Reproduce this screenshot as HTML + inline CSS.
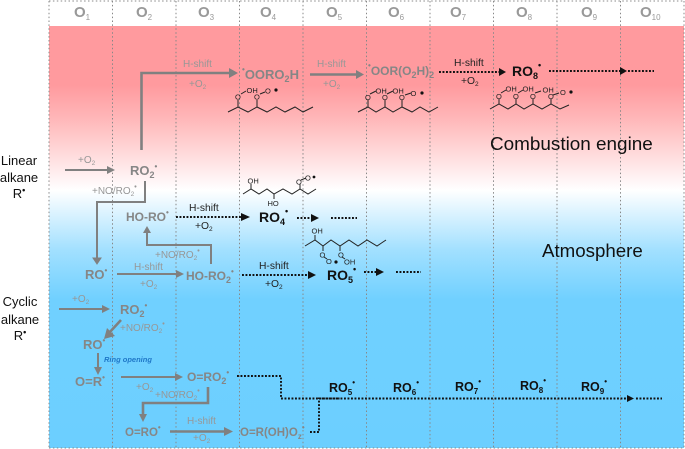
<!DOCTYPE html>
<html><head><meta charset="utf-8">
<style>
html,body{margin:0;padding:0;background:#fff;width:685px;height:449px;overflow:hidden}
svg{display:block}
text{font-family:"Liberation Sans",sans-serif}
.h{font-size:15px;font-weight:bold;fill:#999}
.g{font-size:13px;font-weight:bold;fill:#868686}
.k{font-size:14px;font-weight:bold;fill:#111}
.l{font-size:10px;fill:#979797}
.d{font-size:10.3px;fill:#222}
.m{font-size:7.5px;fill:#222}
.t{font-size:13px;fill:#111;text-anchor:middle}
.a{stroke:#808080;fill:none;stroke-width:2}
.a3{stroke:#808080;fill:none;stroke-width:2.6}
.p{stroke:#111;fill:none;stroke-width:1.9;stroke-dasharray:1.9 1.6}
.v{stroke:#888;fill:none;stroke-width:1;stroke-dasharray:1.5 2.4}
.b{stroke:#222;fill:none;stroke-width:1}
</style></head><body>
<svg width="685" height="449" viewBox="0 0 685 449" xmlns="http://www.w3.org/2000/svg">
<defs>
<linearGradient id="bg" x1="0" y1="0" x2="0" y2="1">
<stop offset="0" stop-color="#ff9a9e"/>
<stop offset="0.14" stop-color="#ff9a9e"/>
<stop offset="0.223" stop-color="#ffb8ba"/>
<stop offset="0.389" stop-color="#ffffff"/>
<stop offset="0.531" stop-color="#a2e0ff"/>
<stop offset="0.649" stop-color="#70d0ff"/>
<stop offset="1" stop-color="#6ccfff"/>
</linearGradient>
</defs>
<rect x="49" y="26" width="635" height="422" fill="url(#bg)"/>

<g class="v">
<path d="M49 1V448M112.500 1V448M176 1V448M239.500 1V448M303 1V448M366.500 1V448M430 1V448M493.500 1V448M557 1V448M620.500 1V448M684 1V448"/>
<path d="M49 1H684M49 448H684"/>
</g>

<g class="h">
<text x="74" y="17">O<tspan font-size="8" dy="3" font-weight="normal">1</tspan></text>
<text x="136" y="17">O<tspan font-size="8" dy="3" font-weight="normal">2</tspan></text>
<text x="198" y="17">O<tspan font-size="8" dy="3" font-weight="normal">3</tspan></text>
<text x="260" y="17">O<tspan font-size="8" dy="3" font-weight="normal">4</tspan></text>
<text x="326" y="17">O<tspan font-size="8" dy="3" font-weight="normal">5</tspan></text>
<text x="388" y="17">O<tspan font-size="8" dy="3" font-weight="normal">6</tspan></text>
<text x="450" y="17">O<tspan font-size="8" dy="3" font-weight="normal">7</tspan></text>
<text x="516" y="17">O<tspan font-size="8" dy="3" font-weight="normal">8</tspan></text>
<text x="581" y="17">O<tspan font-size="8" dy="3" font-weight="normal">9</tspan></text>
<text x="640" y="17">O<tspan font-size="8" dy="3" font-weight="normal">10</tspan></text>
</g>

<text x="490" y="150" style="font-size:18.900px" fill="#111">Combustion engine</text>
<text x="542" y="257" style="font-size:18.700px" fill="#111">Atmosphere</text>

<text class="t" x="19" y="165">Linear</text>
<text class="t" x="19" y="182">alkane</text>
<text class="t" x="19" y="198">R<tspan font-size="9" dy="-5" font-weight="bold">•</tspan></text>
<text class="t" x="20" y="306">Cyclic</text>
<text class="t" x="20" y="324">alkane</text>
<text class="t" x="20" y="340">R<tspan font-size="9" dy="-5" font-weight="bold">•</tspan></text>

<!-- gray arrows -->
<path class="a3" d="M141.500 150V73H230"/><path d="M229 68L238 73L229 78Z" fill="#808080"/>
<path class="a3" d="M310 74.500H358"/><path d="M356 70L364 74.500L356 79Z" fill="#808080"/>
<path class="a" d="M65 170H108"/><path d="M107 166L115 170L107 174Z" fill="#808080"/>
<path class="a" d="M145 181V202H97V260"/><path d="M93 258L97 264L101 258Z" fill="#808080" stroke="#808080"/>
<path class="a" d="M211 264V245H147V232"/><path d="M143 233L147 226L151 233Z" fill="#808080"/>
<path class="a" d="M117 274H177"/><path d="M176 270L184 274L176 278Z" fill="#808080"/>
<path class="a" d="M59 309H104"/><path d="M102 305L110 309L102 313Z" fill="#808080"/>
<path class="a3" d="M121 320L109 333"/><path d="M104 339L107 328L115 336Z" fill="#808080"/>
<path class="a" d="M98 353V368"/><path d="M94 367L98 375L102 367Z" fill="#808080"/>
<path class="a" d="M121 377H177"/><path d="M175 373L183 377L175 381Z" fill="#808080"/>
<path class="a3" d="M208 387V403H143V416"/><path d="M139 414L143 422L147 414Z" fill="#808080"/>
<path class="a3" d="M170 431.500H226"/><path d="M224 427L233 431.500L224 436Z" fill="#808080"/>

<!-- dotted arrows -->
<path class="p" d="M439 72H500"/><path d="M499 68L506 72L499 76Z" fill="#111"/>
<path class="p" d="M549 71H622"/><path d="M620 67L627 71L620 75Z" fill="#111"/>
<path class="p" d="M628 71H654"/>
<path class="p" d="M176 217H242"/><path d="M241 213L250 217L241 221Z" fill="#111"/>
<path class="p" d="M297 218H312"/><path d="M311 214L319 218L311 222Z" fill="#111"/>
<path class="p" d="M331 218H357"/>
<path class="p" d="M242 275H310"/><path d="M308 271L316 275L308 279Z" fill="#111"/>
<path class="p" d="M364 272H378"/><path d="M376 268L384 272L376 276Z" fill="#111"/>
<path class="p" d="M396 272H421"/>
<path class="p" d="M237 376H281V398.500H632"/><path d="M627 395L634 398.500L627 402Z" fill="#111"/>
<path class="p" d="M636 398.500H662"/>
<path class="p" d="M310 432H319V398.500H340"/>

<!-- gray labels -->
<text class="l" x="183" y="67">H-shift</text><text class="l" x="189" y="87">+O<tspan font-size="6.5" dy="2">2</tspan></text>
<text class="l" x="317" y="67">H-shift</text><text class="l" x="323" y="87">+O<tspan font-size="6.5" dy="2">2</tspan></text>
<text class="l" x="78" y="163">+O<tspan font-size="6.5" dy="2">2</tspan></text>
<text class="l" x="92" y="194">+NO/RO<tspan font-size="6.5" dy="2">2</tspan><tspan font-size="7" dy="-7" font-weight="bold">•</tspan></text>
<text class="l" x="155" y="258">+NO/RO<tspan font-size="6.5" dy="2">2</tspan><tspan font-size="7" dy="-7" font-weight="bold">•</tspan></text>
<text class="l" x="134" y="270">H-shift</text><text class="l" x="140" y="287">+O<tspan font-size="6.5" dy="2">2</tspan></text>
<text class="l" x="72" y="302">+O<tspan font-size="6.5" dy="2">2</tspan></text>
<text class="l" x="120" y="331">+NO/RO<tspan font-size="6.5" dy="2">2</tspan><tspan font-size="7" dy="-7" font-weight="bold">•</tspan></text>
<text x="104" y="362" style="font-size:7.500px;font-weight:bold;font-style:italic" fill="#1f78c8">Ring opening</text>
<text class="l" x="136" y="390">+O<tspan font-size="6.5" dy="2">2</tspan></text>
<text class="l" x="155" y="398">+NO/RO<tspan font-size="6.5" dy="2">2</tspan><tspan font-size="7" dy="-7" font-weight="bold">•</tspan></text>
<text class="l" x="187" y="424">H-shift</text><text class="l" x="193" y="441">+O<tspan font-size="6.5" dy="2">2</tspan></text>

<!-- dark labels -->
<text class="d" x="454" y="66">H-shift</text><text class="d" x="461" y="84">+O<tspan font-size="6.5" dy="2">2</tspan></text>
<text class="d" x="189" y="211">H-shift</text><text class="d" x="195" y="229">+O<tspan font-size="6.5" dy="2">2</tspan></text>
<text class="d" x="259" y="269">H-shift</text><text class="d" x="265" y="287">+O<tspan font-size="6.5" dy="2">2</tspan></text>

<!-- gray species -->
<text class="g" x="242" y="79"><tspan font-size="8" dy="-7">•</tspan><tspan dy="7">OORO</tspan><tspan font-size="9" dy="3">2</tspan><tspan dy="-3">H</tspan></text>
<text class="g" style="font-size:12px" x="368" y="75"><tspan font-size="8" dy="-7">•</tspan><tspan dy="7">OOR(O</tspan><tspan font-size="9" dy="3">2</tspan><tspan dy="-3">H)</tspan><tspan font-size="9" dy="3">2</tspan></text>
<text class="g" x="130" y="175">RO<tspan font-size="9" dy="3">2</tspan><tspan font-size="8" dy="-9">•</tspan></text>
<text class="g" style="font-size:12px" x="126" y="221">HO-RO<tspan font-size="8" dy="-6">•</tspan></text>
<text class="g" x="85" y="279">RO<tspan font-size="8" dy="-6">•</tspan></text>
<text class="g" style="font-size:12px" x="186" y="280">HO-RO<tspan font-size="9" dy="3">2</tspan><tspan font-size="8" dy="-9">•</tspan></text>
<text class="g" x="120" y="314">RO<tspan font-size="9" dy="3">2</tspan><tspan font-size="8" dy="-9">•</tspan></text>
<text class="g" x="83" y="349">RO<tspan font-size="8" dy="-6">•</tspan></text>
<text class="g" x="75" y="386">O=R<tspan font-size="8" dy="-6">•</tspan></text>
<text class="g" style="font-size:12px" x="187" y="381">O=RO<tspan font-size="9" dy="3">2</tspan><tspan font-size="8" dy="-9">•</tspan></text>
<text class="g" x="125" y="436" style="font-size:11.500px">O=RO<tspan font-size="8" dy="-6">•</tspan></text>
<text class="g" x="240" y="436" style="font-size:11.500px">O=R(OH)O<tspan font-size="8" dy="3">z</tspan><tspan font-size="8" dy="-9">•</tspan></text>

<!-- black species -->
<text class="k" x="512" y="76">RO<tspan font-size="9" dy="3">8</tspan><tspan font-size="9" dy="-11">•</tspan></text>
<text class="k" x="259" y="222">RO<tspan font-size="9" dy="3">4</tspan><tspan font-size="9" dy="-11">•</tspan></text>
<text class="k" x="327" y="280">RO<tspan font-size="9" dy="3">5</tspan><tspan font-size="9" dy="-11">•</tspan></text>
<text class="k" style="font-size:12.500px" x="329" y="392">RO<tspan font-size="8" dy="3">5</tspan><tspan font-size="8" dy="-10">•</tspan></text>
<text class="k" style="font-size:12.500px" x="393" y="392">RO<tspan font-size="8" dy="3">6</tspan><tspan font-size="8" dy="-10">•</tspan></text>
<text class="k" style="font-size:12.500px" x="455" y="391">RO<tspan font-size="8" dy="3">7</tspan><tspan font-size="8" dy="-10">•</tspan></text>
<text class="k" style="font-size:12.500px" x="520" y="390">RO<tspan font-size="8" dy="3">8</tspan><tspan font-size="8" dy="-10">•</tspan></text>
<text class="k" style="font-size:12.500px" x="581" y="391">RO<tspan font-size="8" dy="3">9</tspan><tspan font-size="8" dy="-10">•</tspan></text>

<!-- molecule 1 -->
<path class="b" d="M228 112L238 107L248 112L257 107L267 112L276 107L285 112L295 107L303 112L313 107M238 107V100M257 107V100M241 94L246 91M260 94L265 92"/>
<text class="m" x="235" y="99.500">O</text><text class="m" x="246.500" y="93">OH</text>
<text class="m" x="254" y="99.500">O</text><text class="m" x="265" y="93.500">O</text>
<circle cx="276" cy="90" r="1.600" fill="#111"/>

<!-- molecule 2 -->
<path class="b" d="M358 112L368 107L376 112L385 107L393 112L402 107L412 112L420 107L429 112L438 107M368 107V100M385 107V100M402 107V100M370 94L376 91M387 94L393 91M405 95L411 93"/>
<text class="m" x="365" y="100">O</text><text class="m" x="375.500" y="93.500">OH</text>
<text class="m" x="382" y="100">O</text><text class="m" x="392.500" y="93.500">OH</text>
<text class="m" x="399" y="100">O</text><text class="m" x="410.500" y="96">O</text>
<circle cx="422" cy="93" r="1.600" fill="#111"/>

<!-- molecule 3 -->
<path class="b" d="M490 109L499 104L508 109L516 104L524 109L533 104L542 109L551 104L560 109L569 105M499 104V99M516 104V99M533 104V99M551 104V99M501 93L506 90M518 93L523 90M535 93L541 91M553 95L559 93"/>
<text class="m" x="496" y="99">O</text><text class="m" x="505.500" y="91.500">OH</text>
<text class="m" x="513" y="99">O</text><text class="m" x="522.500" y="91.500">OH</text>
<text class="m" x="530" y="99">O</text><text class="m" x="542.500" y="92.500">OH</text>
<text class="m" x="548" y="99">O</text><text class="m" x="560" y="95">O</text>
<circle cx="571" cy="92" r="1.600" fill="#111"/>

<!-- molecule 4 -->
<path class="b" d="M243 194L251 189L259 194L267 189L274 194L283 189L292 194L300 189L308 194L316 189M251 189V184M274 194V199M300 189V184M301 180L306 178"/>
<text class="m" x="247.500" y="183.500">OH</text><text class="m" x="267.500" y="206">HO</text>
<text class="m" x="296" y="184.500">O</text><text class="m" x="305" y="180.500">O</text>
<circle cx="314" cy="177" r="1.400" fill="#111"/>

<!-- molecule 5 -->
<path class="b" d="M305 246L315 240L323 246L331 240L340 246L349 240L358 246L367 240L377 246L386 240M315 240V235M323 246V251M340 246V251M324 257L327 259M342 257L345 259"/>
<text class="m" x="311.500" y="233.500">OH</text>
<text class="m" x="319.500" y="257.500">O</text><text class="m" x="326" y="264">O</text>
<text class="m" x="338" y="257.500">O</text><text class="m" x="344" y="264.500">OH</text>
<circle cx="336" cy="262" r="1.600" fill="#111"/>
</svg>
</body></html>
